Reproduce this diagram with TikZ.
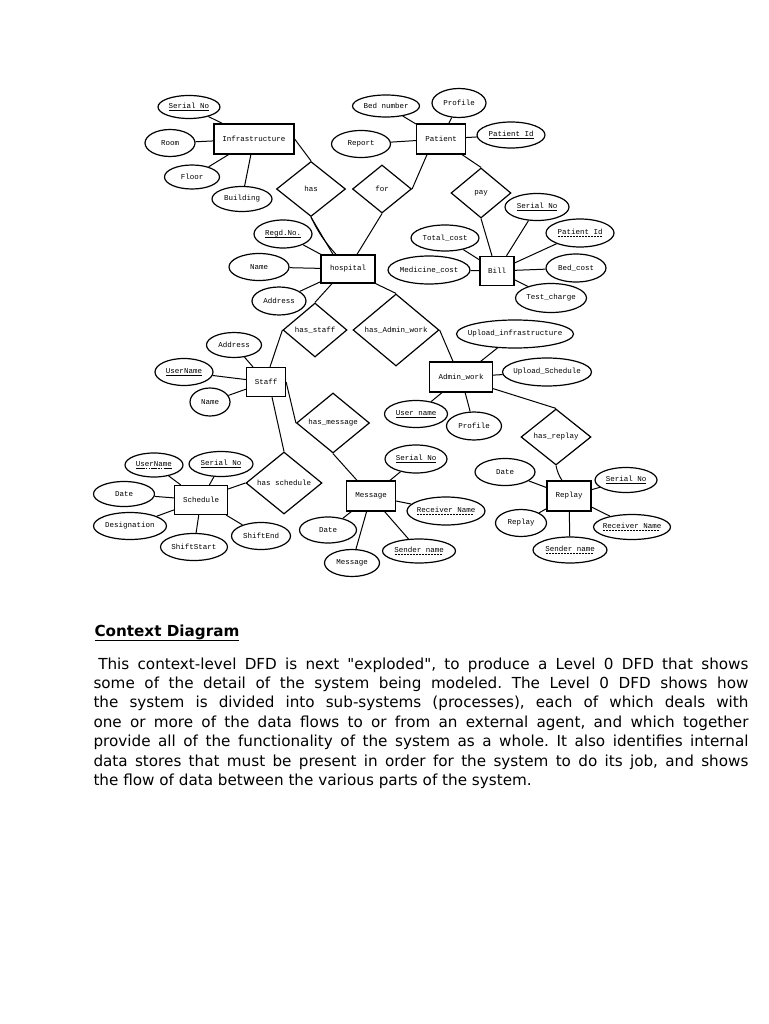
\documentclass[tikz,border=0pt]{standalone}
\usepackage{fontspec}
\usetikzlibrary{shapes.geometric}
\newfontfamily\erfont{Liberation Mono}
\newfontfamily\bodyfont{DejaVu Sans}
\newcommand{\keyul}[1]{\setbox0=\hbox{#1}\rlap{\copy0}\rule[-2.2pt]{\wd0}{0.8pt}}
\newcommand{\partul}[1]{\setbox0=\hbox{#1}\rlap{\copy0}\raisebox{-2.8pt}{\hbox to \wd0{\leaders\hbox to 3pt{\hss\rule{2pt}{1.1pt}\hss}\hfill}}}
\newcommand{\dq}{\XeTeXglyph\XeTeXcharglyph"22\relax}
\begin{document}
\begin{tikzpicture}[x=1pt,y=-1pt,line width=1pt,
  ent/.style 2 args={draw,line width=1.25pt,minimum width=#1,minimum height=#2,inner sep=0pt,font=\erfont\fontsize{7.5}{9}\selectfont},
  attr/.style 2 args={ellipse,draw,line width=1.2pt,minimum width=#1,minimum height=#2,inner sep=0pt,font=\erfont\fontsize{7.5}{9}\selectfont,
    execute at begin node={\hbox to 0pt\bgroup\hss},execute at end node={\hss\egroup}},
  rel/.style 2 args={diamond,draw,line width=1.2pt,minimum width=#1,minimum height=#2,inner sep=0pt,font=\erfont\fontsize{7.5}{9}\selectfont,
    execute at begin node={\hbox to 0pt\bgroup\hss},execute at end node={\hss\egroup}}]
\fill[white] (0,0) rectangle (768,1024);
\useasboundingbox (0,0) rectangle (768,1024);
%\draw[help lines,step=50] (0,0) grid (768,1024);
% entities
\node[ent={80pt}{30pt}] (infra) at (254,139) {Infrastructure};
\node[ent={49pt}{30pt}] (patient) at (441,139) {Patient};
\node[ent={54pt}{28pt}] (hosp) at (348,269) {hospital};
\node[ent={34pt}{29pt}] (bill) at (497,271) {Bill};
\node[ent={39pt}{29pt}] (staff) at (266,382) {Staff};
\node[ent={63pt}{30pt}] (admin) at (461,377) {Admin\_work};
\node[ent={53pt}{29pt}] (sched) at (201,500) {Schedule};
\node[ent={49pt}{30pt}] (msg) at (371,496) {Message};
\node[ent={44pt}{30pt}] (reply) at (569,496) {Replay};
% relationships
\node[rel={69pt}{55pt}] (has) at (311,189) {has};
\node[rel={59pt}{48pt}] (for) at (382,189) {for};
\node[rel={60pt}{50pt}] (pay) at (481,193) {pay};
\node[rel={64pt}{54pt}] (hstaff) at (315,330) {has\_staff};
\node[rel={86pt}{72pt}] (hadmin) at (396,330) {has\_Admin\_work};
\node[rel={73pt}{60pt}] (hmsg) at (333,423) {has\_message};
\node[rel={76pt}{62pt}] (hsched) at (284,483) {has schedule};
\node[rel={70pt}{56pt}] (hreply) at (556,437) {has\_replay};
% attributes
\node[attr={62pt}{23pt}] (isno) at (189,107) {\keyul{Serial No}};
\node[attr={50pt}{27pt}] (iroom) at (170,143) {Room};
\node[attr={55pt}{24pt}] (ifloor) at (192,177) {Floor};
\node[attr={60pt}{25pt}] (ibuild) at (242,199) {Building};
\node[attr={67pt}{22pt}] (pbed) at (386,106) {Bed number};
\node[attr={54pt}{29pt}] (pprof) at (459,103) {Profile};
\node[attr={68pt}{26pt}] (pid) at (511,135) {\keyul{Patient Id}};
\node[attr={59pt}{27pt}] (prep) at (361,144) {Report};
\node[attr={64pt}{27pt}] (bsno) at (537,207) {\keyul{Serial No}};
\node[attr={68pt}{26pt}] (btot) at (445,238) {Total\_cost};
\node[attr={68pt}{28pt}] (bpid) at (580,233) {\partul{Patient Id}};
\node[attr={82pt}{28pt}] (bmed) at (429,270) {Medicine\_cost};
\node[attr={60pt}{28pt}] (bbed) at (576,268) {Bed\_cost};
\node[attr={71pt}{29pt}] (btest) at (551,298) {Test\_charge};
\node[attr={58pt}{28pt}] (hreg) at (283,234) {\keyul{Regd.No.}};
\node[attr={60pt}{27pt}] (hname) at (259,267) {Name};
\node[attr={54pt}{28pt}] (haddr) at (279,301) {Address};
\node[attr={55pt}{25pt}] (saddr) at (234,345) {Address};
\node[attr={58pt}{27pt}] (suser) at (184,372) {\keyul{UserName}};
\node[attr={40pt}{28pt}] (sname) at (210,402) {Name};
\node[attr={117pt}{28pt}] (aupinf) at (515,334) {Upload\_infrastructure};
\node[attr={89pt}{28pt}] (aupsch) at (547,372) {Upload\_Schedule};
\node[attr={63pt}{27pt}] (auser) at (416,414) {\keyul{User name}};
\node[attr={55pt}{28pt}] (aprof) at (474,426) {Profile};
\node[attr={58pt}{24pt}] (cuser) at (154,465) {\partul{UserName}};
\node[attr={64pt}{25pt}] (csno) at (221,464) {\keyul{Serial No}};
\node[attr={61pt}{25pt}] (cdate) at (124,494) {Date};
\node[attr={73pt}{27pt}] (cdesig) at (130,526) {Designation};
\node[attr={67pt}{27pt}] (cstart) at (194,547) {ShiftStart};
\node[attr={59pt}{27pt}] (cend) at (261,536) {ShiftEnd};
\node[attr={62pt}{28pt}] (msno) at (416,459) {\keyul{Serial No}};
\node[attr={78pt}{28pt}] (mrecv) at (446,511) {\partul{Receiver Name}};
\node[attr={57pt}{26pt}] (mdate) at (328,530) {Date};
\node[attr={73pt}{24pt}] (msend) at (419,551) {\partul{Sender name}};
\node[attr={55pt}{27pt}] (mmsg) at (352,563) {Message};
\node[attr={60pt}{27pt}] (rdate) at (505,472) {Date};
\node[attr={62pt}{25pt}] (rsno) at (626,480) {\keyul{Serial No}};
\node[attr={51pt}{27pt}] (rrep) at (521,523) {Replay};
\node[attr={77pt}{25pt}] (rrecv) at (632,527) {\partul{Receiver Name}};
\node[attr={74pt}{26pt}] (rsend) at (570,550) {\partul{Sender name}};
% relationship lines
\draw (infra.east) -- (has.north);
\draw (has.south) -- ([xshift=-15pt]hosp.north);
\draw (has.south) to[bend right=8] ([xshift=-12pt]hosp.north);
\draw ([xshift=-14pt]patient.south) -- (for.east);
\draw (for.south) -- ([xshift=9pt]hosp.north);
\draw ([xshift=21pt]patient.south) -- (pay.north);
\draw (pay.south) -- ([xshift=-5pt]bill.north);
\draw ([xshift=-16pt]hosp.south) -- (hstaff.north);
\draw (hosp.south east) -- (hadmin.north);
\draw (hstaff.west) -- ([xshift=4pt]staff.north);
\draw (hadmin.east) -- ([xshift=-8pt]admin.north);
\draw (staff.east) -- (hmsg.west);
\draw (hmsg.south) -- ([xshift=-14pt]msg.north);
\draw ([xshift=6pt]staff.south) -- (hsched.north);
\draw (hsched.west) -- ([yshift=11pt]sched.east);
\draw ([yshift=4pt]admin.south east) -- (hreply.north);
\draw (hreply.south) to[bend right=10] ([xshift=-7pt]reply.north);
% attribute lines
\draw (isno) -- (infra) (iroom) -- (infra) (ifloor) -- (infra) (ibuild) -- (infra);
\draw (pbed) -- (patient) (pprof) -- (patient) (pid) -- (patient) (prep) -- (patient);
\draw (bsno) -- (bill) (btot) -- (bill) (bpid) -- (bill) (bmed) -- (bill) (bbed) -- (bill) (btest) -- (bill);
\draw (hreg) -- (hosp) (hname) -- (hosp) (haddr) -- (hosp);
\draw (saddr) -- (staff) (suser) -- (staff) (sname) -- (staff);
\draw (aupinf) -- (admin) (aupsch) -- (admin) (auser) -- (admin) (aprof) -- (admin);
\draw (cuser) -- (sched) (csno) -- (sched) (cdate) -- (sched) (cdesig) -- (sched) (cstart) -- (sched) (cend) -- (sched);
\draw (msno) -- (msg) (mrecv) -- (msg) (mdate) -- (msg) (msend) -- (msg) (mmsg) -- (msg);
\draw (rdate) -- (reply) (rsno) -- (reply) (rrep) -- (reply) (rrecv) -- (reply) (rsend) -- (reply);
% text below
\node[anchor=base west,inner sep=0pt,font=\bodyfont\bfseries\fontsize{15.2}{19}\selectfont] (title) at (94,636) {\underline{Context Diagram}};
\node[anchor=north west,inner sep=0pt,text width=655pt,align=justify,font=\bodyfont\fontsize{15.2}{19.4}\selectfont] (ctx) at (93,657) {\hyphenpenalty=10000\frenchspacing
\hspace*{4.8pt}This context-level DFD is next \dq exploded\dq, to produce a Level 0 DFD that shows\linebreak
some of the detail of the system being modeled. The Level 0 DFD shows how\linebreak
the system is divided into sub-systems (processes), each of which deals with\linebreak
one or more of the data flows to or from an external agent, and which together\linebreak
provide all of the functionality of the system as a whole. It also identifies internal\linebreak
data stores that must be present in order for the system to do its job, and shows\linebreak
the flow of data between the various parts of the system.};
\end{tikzpicture}
\end{document}
